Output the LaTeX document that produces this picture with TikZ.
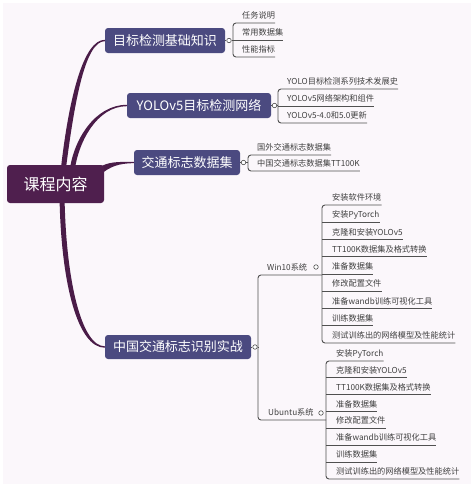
\documentclass[tikz,border=0pt]{standalone}
\usepackage{fontspec}
\setmainfont{Noto Sans CJK SC}
\definecolor{bgc}{HTML}{FBF7FB}
\definecolor{rootc}{HTML}{4F1F4E}
\definecolor{trunkc}{HTML}{4A1C48}
\definecolor{topicc}{HTML}{4B4A80}
\definecolor{itemc}{HTML}{404040}
\definecolor{linec}{HTML}{505050}
\begin{document}
\begin{tikzpicture}[x=1pt,y=-1pt,
  rootbox/.style={fill=rootc, rounded corners=3pt, text=white, font=\fontsize{16}{18}\selectfont, minimum width=97pt, minimum height=38pt, inner sep=0},
  topicbox/.style={fill=topicc, rounded corners=3pt, text=white, font=\fontsize{13}{15}\selectfont, minimum height=25pt, inner sep=0},
  itemtext/.style={text=itemc, font=\fontsize{8.2}{10}\selectfont, inner sep=0, anchor=base west},
  bline/.style={draw=linec, line width=0.9pt},
  toggle/.style={circle, draw=linec, fill=white, line width=0.6pt, minimum size=4.5pt, inner sep=0},
  trunk/.style={fill=trunkc}
]
\fill[white] (0,0) rectangle (474,488);
\fill[bgc] (3,3) rectangle (471,484);
\useasboundingbox (0,0) rectangle (474,488);

% topics
\node[topicbox, minimum width=120pt] (t1) at (165,40.5) {目标检测基础知识};
\node[topicbox, minimum width=144pt] (t2) at (199,105.5) {YOLOv5目标检测网络};
\node[topicbox, minimum width=106pt] (t3) at (187,162.5) {交通标志数据集};
\node[topicbox, minimum width=146pt, minimum height=24pt] (t4) at (178,347) {中国交通标志识别实战};

% tapered trunks
\fill[trunk] (60.5,172) .. controls (69,95) and (84,39.8) .. ([yshift=0.7pt]t1.west)
  -- ([yshift=-0.7pt]t1.west) .. controls (86,41.2) and (75,96) .. (65.5,172) -- cycle;
\fill[trunk] (69.5,172) .. controls (73,140) and (95,104.8) .. ([yshift=0.7pt]t2.west)
  -- ([yshift=-0.7pt]t2.west) .. controls (97,106.2) and (78,142) .. (74.5,172) -- cycle;
\fill[trunk] (98,168) .. controls (108,161.8) and (116,161.8) .. ([yshift=0.7pt]t3.west)
  -- ([yshift=-0.7pt]t3.west) .. controls (118,163.2) and (110,167) .. (101,174) -- cycle;
\fill[trunk] (59.5,196) .. controls (61,285) and (78,347.7) .. ([yshift=-0.7pt]t4.west)
  -- ([yshift=0.7pt]t4.west) .. controls (82,346.3) and (66,283) .. (64.5,196) -- cycle;

\node[rootbox] (root) at (55.5,184) {课程内容};

% branch 1
\foreach \t [count=\i] in {任务说明,常用数据集,性能指标}
  \node[itemtext] (a\i) at (233,{18.5+17*(\i-1)}) {\hspace{9pt}\t\hspace{2pt}};
\draw[bline, rounded corners=3pt] ([yshift=-4.5pt]a1.base east) -- ([yshift=-4.5pt]a1.base west)
  -- ([yshift=-4.5pt]a3.base west) -- ([yshift=-4.5pt]a3.base east);
\draw[bline] ([yshift=-4.5pt]a2.base west) -- ([yshift=-4.5pt]a2.base east);
\node[toggle] (c1) at (229,40.5) {};
\draw[bline] (t1.east) -- (c1.west);
\draw[bline] (c1.east) -- (233,40.5);

% branch 2
\foreach \t [count=\i] in {YOLO目标检测系列技术发展史,YOLOv5网络架构和组件,YOLOv5-4.0和5.0更新}
  \node[itemtext] (b\i) at (278,{84.5+17*(\i-1)}) {\hspace{9pt}\t\hspace{3pt}};
\draw[bline, rounded corners=3pt] ([yshift=-4.5pt]b1.base east) -- ([yshift=-4.5pt]b1.base west)
  -- ([yshift=-4.5pt]b3.base west) -- ([yshift=-4.5pt]b3.base east);
\draw[bline] ([yshift=-4.5pt]b2.base west) -- ([yshift=-4.5pt]b2.base east);
\node[toggle] (c2) at (274.5,105.5) {};
\draw[bline] (t2.east) -- (c2.west);
\draw[bline] (c2.east) -- (278,105.5);

% branch 3
\foreach \t [count=\i] in {国外交通标志数据集,中国交通标志数据集TT100K}
  \node[itemtext] (d\i) at (248,{150.5+16*(\i-1)}) {\hspace{9pt}\t\hspace{3pt}};
\draw[bline, rounded corners=3pt] ([yshift=-4.5pt]d1.base east) -- ([yshift=-4.5pt]d1.base west)
  -- ([yshift=-4.5pt]d2.base west) -- ([yshift=-4.5pt]d2.base east);
\node[toggle] (c3) at (243.5,162.5) {};
\draw[bline] (t3.east) -- (c3.west);
\draw[bline] (c3.east) -- (248,162.5);

% branch 4
\node[itemtext] (w) at (258,270.5) {\hspace{9pt}Win10系统};
\node[itemtext] (u) at (258,415.5) {\hspace{10pt}Ubuntu系统};
\coordinate (wj) at (322,275);
\coordinate (uj) at (326,420);
\draw[bline, rounded corners=3pt] (wj) -- ([yshift=-4.5pt]w.base west)
  -- ([yshift=-4.5pt]u.base west) -- (uj);
\node[toggle] (c4) at (255,347) {};
\draw[bline] (t4.east) -- (c4.west);
\draw[bline] (c4.east) -- (258,347);
\node[toggle] (cw) at (316,267) {};
\node[toggle] (cu) at (321,413) {};

% Win10 items
\foreach \t [count=\i] in {安装软件环境,安装PyTorch,克隆和安装YOLOv5,TT100K数据集及格式转换,准备数据集,修改配置文件,准备wandb训练可视化工具,训练数据集,测试训练出的网络模型及性能统计}
  \node[itemtext] (e\i) at (322,{200.5+17.25*(\i-1)}) {\hspace{10pt}\t\hspace{3pt}};
\draw[bline, rounded corners=3pt] ([yshift=-4.5pt]e1.base east) -- ([yshift=-4.5pt]e1.base west)
  -- ([yshift=-4.5pt]e9.base west) -- ([yshift=-4.5pt]e9.base east);
\foreach \i in {2,...,8}
  \draw[bline] ([yshift=-4.5pt]e\i.base west) -- ([yshift=-4.5pt]e\i.base east);

% Ubuntu items
\foreach \t [count=\i] in {安装PyTorch,克隆和安装YOLOv5,TT100K数据集及格式转换,准备数据集,修改配置文件,准备wandb训练可视化工具,训练数据集,测试训练出的网络模型及性能统计}
  \node[itemtext] (f\i) at (326,{356.5+16.857*(\i-1)}) {\hspace{10pt}\t\hspace{3pt}};
\draw[bline, rounded corners=3pt] ([yshift=-4.5pt]f1.base east) -- ([yshift=-4.5pt]f1.base west)
  -- ([yshift=-4.5pt]f8.base west) -- ([yshift=-4.5pt]f8.base east);
\foreach \i in {2,...,7}
  \draw[bline] ([yshift=-4.5pt]f\i.base west) -- ([yshift=-4.5pt]f\i.base east);
\end{tikzpicture}
\end{document}
